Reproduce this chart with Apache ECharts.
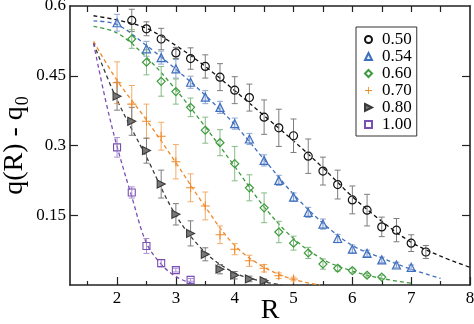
<!DOCTYPE html>
<html>
<head>
<meta charset="utf-8">
<script src="https://cdn.jsdelivr.net/npm/echarts@6/dist/echarts.min.js"></script>
<style>
  html, body { margin: 0; padding: 0; background: #fff; }
  #chart { width: 474px; height: 324px; }
</style>
</head>
<body>
<div id="chart"></div>
<script>
// Overlap q(R) - q0 versus distance R, for six parameter values.
const seriesNames = ['0.50', '0.54', '0.60', '0.70', '0.80', '1.00'];

// measured points: R, q(R) - q0, error
const r050 = [2.25, 2.5, 2.75, 3.0, 3.25, 3.5, 3.75, 4.0, 4.25, 4.5, 4.75, 5.0, 5.25, 5.5, 5.75, 6.0, 6.25, 6.5, 6.75, 7.0, 7.25];
const q050 = [0.569, 0.551, 0.529, 0.499, 0.487, 0.470, 0.447, 0.419, 0.403, 0.361, 0.338, 0.321, 0.277, 0.245, 0.216, 0.183, 0.161, 0.125, 0.118, 0.090, 0.071];
const e050 = [0.024, 0.015, 0.023, 0.012, 0.023, 0.025, 0.029, 0.029, 0.029, 0.037, 0.040, 0.036, 0.037, 0.030, 0.031, 0.030, 0.034, 0.021, 0.025, 0.018, 0.014];

const r054 = [2.0, 2.5, 2.75, 3.0, 3.25, 3.5, 3.75, 4.0, 4.25, 4.5, 4.75, 5.0, 5.25, 5.5, 5.75, 6.0, 6.25, 6.5, 6.75, 7.0];
const q054 = [0.564, 0.508, 0.489, 0.465, 0.436, 0.404, 0.382, 0.347, 0.314, 0.268, 0.225, 0.189, 0.156, 0.131, 0.100, 0.077, 0.068, 0.054, 0.043, 0.038];
const e054 = [0.018, 0.016, 0.014, 0.020, 0.013, 0.014, 0.013, 0.012, 0.012, 0.012, 0.011, 0.009, 0.011, 0.011, 0.009, 0.009, 0.007, 0.006, 0.006, 0.005];

const r060 = [2.25, 2.5, 2.75, 3.0, 3.25, 3.5, 3.75, 4.0, 4.25, 4.5, 4.75, 5.0, 5.25, 5.5, 5.75, 6.0, 6.25, 6.5];
const q060 = [0.529, 0.479, 0.438, 0.416, 0.382, 0.333, 0.306, 0.261, 0.209, 0.166, 0.114, 0.090, 0.069, 0.045, 0.036, 0.031, 0.021, 0.017];
const e060 = [0.020, 0.027, 0.032, 0.027, 0.020, 0.028, 0.028, 0.037, 0.028, 0.032, 0.023, 0.015, 0.012, 0.011, 0.006, 0.005, 0.004, 0.004];

const r070 = [2.0, 2.25, 2.5, 2.75, 3.0, 3.25, 3.5, 3.75, 4.0, 4.25, 4.5, 4.75, 5.0];
const q070 = [0.435, 0.389, 0.352, 0.320, 0.265, 0.209, 0.170, 0.108, 0.077, 0.052, 0.036, 0.020, 0.013];
const e070 = [0.045, 0.040, 0.037, 0.030, 0.037, 0.030, 0.030, 0.019, 0.012, 0.012, 0.008, 0.006, 0.004];

const r080 = [2.0, 2.25, 2.5, 2.75, 3.0, 3.25, 3.5, 3.75, 4.0, 4.25, 4.5];
const q080 = [0.406, 0.352, 0.289, 0.217, 0.152, 0.111, 0.066, 0.034, 0.021, 0.013, 0.009];
const e080 = [0.030, 0.030, 0.027, 0.030, 0.023, 0.027, 0.014, 0.010, 0.008, 0.006, 0.004];

const r100 = [2.0, 2.25, 2.5, 2.75, 3.0, 3.25];
const q100 = [0.296, 0.199, 0.084, 0.047, 0.032, 0.011];
const e100 = [0.021, 0.012, 0.016, 0.008, 0.004, 0.003];

// fitted curves (dashed)
const fitR050 = [1.6, 2.0, 2.5, 3.0, 3.5, 4.0, 4.5, 5.0, 5.5, 6.0, 6.5, 7.0, 7.5, 8.0];
const fitQ050 = [0.579, 0.570, 0.552, 0.515, 0.470, 0.418, 0.364, 0.310, 0.252, 0.190, 0.137, 0.092, 0.062, 0.038];
const fitR054 = [1.6, 2.0, 2.5, 3.0, 3.5, 4.0, 4.5, 5.0, 5.5, 6.0, 6.5, 7.0, 7.5];
const fitQ054 = [0.568, 0.560, 0.515, 0.464, 0.408, 0.345, 0.270, 0.195, 0.133, 0.085, 0.058, 0.034, 0.014];
const fitR060 = [1.6, 2.0, 2.5, 3.0, 3.5, 4.0, 4.5, 5.0, 5.5, 6.0, 6.5, 7.0];
const fitQ060 = [0.556, 0.542, 0.490, 0.420, 0.340, 0.255, 0.168, 0.100, 0.055, 0.030, 0.014, 0.004];
const fitR070 = [1.6, 2.0, 2.5, 3.0, 3.5, 4.0, 4.5, 5.0, 5.45];
const fitQ070 = [0.524, 0.440, 0.355, 0.263, 0.168, 0.085, 0.038, 0.012, 0.0];
const fitR080 = [1.6, 2.0, 2.5, 3.0, 3.5, 4.0, 4.5, 4.8];
const fitQ080 = [0.520, 0.398, 0.275, 0.150, 0.070, 0.026, 0.007, 0.0];
const fitR100 = [1.6, 1.8, 2.0, 2.25, 2.5, 2.75, 3.0, 3.3];
const fitQ100 = [0.520, 0.400, 0.298, 0.190, 0.090, 0.045, 0.018, 0.002];

// axis ticks
const xTicks = [2, 3, 4, 5, 6, 7, 8];
const xMinorTicks = [1.5, 2.5, 3.5, 4.5, 5.5, 6.5, 7.5];
const xTopTicks = [1.5, 2, 2.5, 3, 3.5, 4, 4.5, 5, 5.5, 6, 6.5, 7, 7.5];
const yTicks = [0.15, 0.3, 0.45, 0.6];
const yInnerTicks = [0.15, 0.3, 0.45];

const FONT = '"Liberation Serif", "Times New Roman", serif';
const AXIS_COLOR = '#222';

const styles = [
  { color: '#111111', err: '#7d7d7d', symbol: 'circle', size: 8, fill: 'rgba(0,0,0,0)', bw: 1.2 },
  { color: '#3f6fbf', err: '#8ea7cf', symbol: 'triangle', size: 8, fill: 'rgba(63,111,191,0.12)', bw: 1.2 },
  { color: '#3d9b3d', err: '#86bb86', symbol: 'diamond', size: 8, fill: 'rgba(0,0,0,0)', bw: 1.2 },
  { color: '#f0892a', err: '#f2ac6a', symbol: 'path://M4.4,0h1.2v4.4h4.4v1.2h-4.4v4.4h-1.2v-4.4h-4.4v-1.2h4.4z', size: 9, fill: '#f0892a', bw: 0 },
  { color: '#3a3a3a', err: '#7d7d7d', symbol: 'path://M0,0L10,5L0,10Z', size: 8, fill: '#777777', bw: 1.1 },
  { color: '#7a4fb5', err: '#a891cf', symbol: 'rect', size: 7, fill: 'rgba(0,0,0,0)', bw: 1.1 }
];

const points = [
  [r050, q050, e050], [r054, q054, e054], [r060, q060, e060],
  [r070, q070, e070], [r080, q080, e080], [r100, q100, e100]
];
const fits = [
  [fitR050, fitQ050], [fitR054, fitQ054], [fitR060, fitQ060],
  [fitR070, fitQ070], [fitR080, fitQ080], [fitR100, fitQ100]
];

function errorBarRenderer(color) {
  return function (params, api) {
    const x = api.value(0);
    const top = api.coord([x, api.value(2)]);
    const bot = api.coord([x, api.value(1)]);
    const w = 3;
    const st = { stroke: color, lineWidth: 1 };
    return {
      type: 'group',
      children: [
        { type: 'line', shape: { x1: top[0], y1: top[1], x2: bot[0], y2: bot[1] }, style: st },
        { type: 'line', shape: { x1: top[0] - w, y1: top[1], x2: top[0] + w, y2: top[1] }, style: st },
        { type: 'line', shape: { x1: bot[0] - w, y1: bot[1], x2: bot[0] + w, y2: bot[1] }, style: st }
      ]
    };
  };
}

const series = [];

// dashed fit curves
fits.forEach(function (f, i) {
  series.push({
    type: 'line',
    silent: true,
    smooth: 0.35,
    symbol: 'none',
    data: f[0].map(function (r, k) { return [r, f[1][k]]; }),
    lineStyle: { color: styles[i].color, width: 1.3, type: [4, 3] },
    z: 1
  });
});

// error bars
points.forEach(function (p, i) {
  series.push({
    type: 'custom',
    silent: true,
    clip: true,
    renderItem: errorBarRenderer(styles[i].err),
    data: p[0].map(function (r, k) { return [r, p[1][k] - p[2][k], p[1][k] + p[2][k]]; }),
    z: 2
  });
});

// markers
points.forEach(function (p, i) {
  const s = styles[i];
  series.push({
    type: 'scatter',
    name: seriesNames[i],
    symbol: s.symbol,
    symbolSize: s.size,
    data: p[0].map(function (r, k) { return [r, p[1][k]]; }),
    itemStyle: { color: s.fill, borderColor: s.color, borderWidth: s.bw, opacity: 1 },
    z: 3
  });
});

const chart = echarts.init(document.getElementById('chart'), null, { renderer: 'canvas' });
chart.setOption({
  animation: false,
  backgroundColor: '#fff',
  grid: { left: 70, right: 4, top: 6, bottom: 39, containLabel: false, outerBoundsMode: 'none' },
  legend: {
    orient: 'vertical',
    left: 356,
    top: 27,
    data: seriesNames,
    itemWidth: 7,
    itemHeight: 7,
    itemGap: 0,
    padding: [4, 5, 3, 8],
    borderColor: '#333',
    borderWidth: 1,
    borderRadius: 0,
    selectedMode: false,
    textStyle: { fontFamily: FONT, fontSize: 17, color: '#000', lineHeight: 15, padding: [0, 0, 0, 5] }
  },
  xAxis: [
    {
      type: 'value', position: 'bottom', min: 1.2, max: 8,
      name: 'R', nameLocation: 'middle', nameGap: 12, nameMoveOverlap: false,
      nameTextStyle: { fontFamily: FONT, fontSize: 28, color: '#000', verticalAlign: 'top' },
      axisLine: { show: true, onZero: false, lineStyle: { color: AXIS_COLOR, width: 1.6 } },
      axisTick: { show: true, inside: true, length: 8, customValues: xTicks, lineStyle: { color: AXIS_COLOR, width: 1.2 } },
      axisLabel: { customValues: xTicks, fontFamily: FONT, fontSize: 17, color: '#000', margin: 5 },
      splitLine: { show: false }
    },
    {
      type: 'value', position: 'bottom', min: 1.2, max: 8,
      axisLine: { show: false },
      axisTick: { show: true, inside: true, length: 4, customValues: xMinorTicks, lineStyle: { color: AXIS_COLOR, width: 1.2 } },
      axisLabel: { show: false },
      splitLine: { show: false }
    },
    {
      type: 'value', position: 'top', min: 1.2, max: 8,
      axisLine: { show: true, onZero: false, lineStyle: { color: AXIS_COLOR, width: 1.6 } },
      axisTick: { show: true, inside: true, length: 6, customValues: xTopTicks, lineStyle: { color: AXIS_COLOR, width: 1.2 } },
      axisLabel: { show: false },
      splitLine: { show: false }
    }
  ],
  yAxis: [
    {
      type: 'value', position: 'left', min: 0, max: 0.6, interval: 0.15,
      name: '{a|q(R) - q}{s|0}', nameLocation: 'middle', nameGap: 39, nameRotate: 90, nameMoveOverlap: false,
      nameTextStyle: {
        rich: {
          a: { fontFamily: FONT, fontSize: 28, color: '#000', lineHeight: 30, verticalAlign: 'top' },
          s: { fontFamily: FONT, fontSize: 18, color: '#000', lineHeight: 18, verticalAlign: 'top', padding: [13, 0, 0, 1] }
        }
      },
      axisLine: { show: true, onZero: false, lineStyle: { color: AXIS_COLOR, width: 1.6 } },
      axisTick: { show: true, inside: true, length: 8, customValues: yInnerTicks, lineStyle: { color: AXIS_COLOR, width: 1.2 } },
      axisLabel: { customValues: yTicks, fontFamily: FONT, fontSize: 17, color: '#000', margin: 4 },
      splitLine: { show: false }
    },
    {
      type: 'value', position: 'right', min: 0, max: 0.6, interval: 0.15,
      axisLine: { show: true, onZero: false, lineStyle: { color: AXIS_COLOR, width: 1.6 } },
      axisTick: { show: true, inside: true, length: 8, customValues: yInnerTicks, lineStyle: { color: AXIS_COLOR, width: 1.2 } },
      axisLabel: { show: false },
      splitLine: { show: false }
    }
  ],
  series: series
});
</script>
</body>
</html>
